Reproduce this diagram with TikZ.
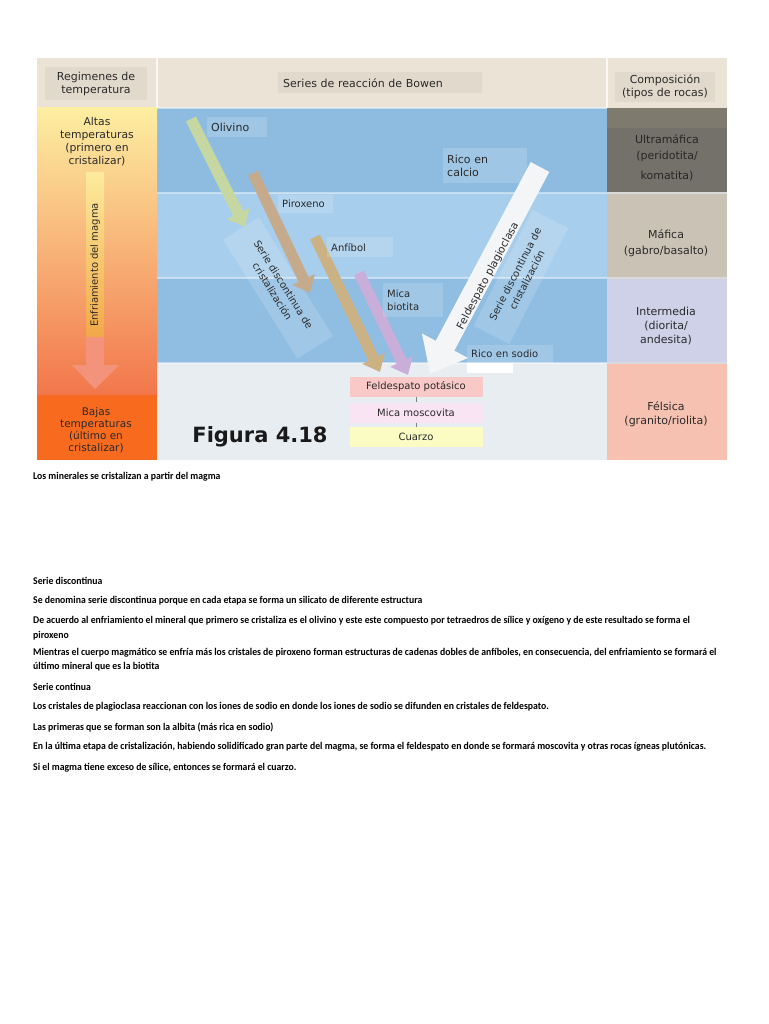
\documentclass[tikz,border=0pt]{standalone}
\usepackage{fontspec}
\setmainfont{DejaVu Sans}
\newfontfamily\bodyfont[FakeStretch=0.945]{Carlito}
\usetikzlibrary{arrows.meta,positioning}

\definecolor{headBeige}{HTML}{EAE3D6}
\definecolor{headShade}{HTML}{E1D9CB}
\definecolor{rowOne}{HTML}{8EBCE1}
\definecolor{rowTwo}{HTML}{A7CEEC}
\definecolor{rowThree}{HTML}{90BDE2}
\definecolor{rowFour}{HTML}{E8EDF1}
\definecolor{ultraGray}{HTML}{7E7A6E}
\definecolor{ultraDark}{HTML}{74716A}
\definecolor{maficGray}{HTML}{C9C2B5}
\definecolor{interLav}{HTML}{CED1E8}
\definecolor{felsPink}{HTML}{F6C1B1}
\definecolor{tempTop}{HTML}{FDEEA2}
\definecolor{tempMid}{HTML}{F9C182}
\definecolor{tempBot}{HTML}{F2764C}
\definecolor{bajasOrange}{HTML}{F86B1E}
\definecolor{arrowYellow}{HTML}{FCEB9C}
\definecolor{arrowDeep}{HTML}{F2A848}
\definecolor{arrowSalmon}{HTML}{F3937C}
\definecolor{olivGreen}{HTML}{C6D7A2}
\definecolor{piroTan}{HTML}{C5AA8C}
\definecolor{anfiTan}{HTML}{CBB285}
\definecolor{micaLila}{HTML}{C9AEDA}
\definecolor{plagWhite}{HTML}{F3F5F7}
\definecolor{feldPink}{HTML}{F8C9C7}
\definecolor{moscPink}{HTML}{F9E4F4}
\definecolor{cuarYellow}{HTML}{FBFBC4}
\definecolor{textDark}{HTML}{2A2A2A}

\begin{document}
\begin{tikzpicture}[x=1pt,y=-1pt,
	labelBox/.style={fill=white, fill opacity=0.16, text opacity=1, text=textDark, align=left, anchor=north west, inner sep=4pt, font=\fontsize{10}{12.5}\selectfont},
	headBox/.style={fill=headShade, text=textDark, align=center, inner sep=2pt, font=\fontsize{11}{13}\selectfont},
	cellText/.style={text=textDark, align=center, font=\fontsize{11}{15.5}\selectfont},
	rotBox/.style={fill=white, fill opacity=0.16, text opacity=1, text=textDark, align=center, inner sep=5pt, font=\fontsize{10}{13}\selectfont},
	mineralBox/.style={minimum width=133pt, minimum height=20pt, inner sep=0pt, text=textDark, font=\fontsize{10}{12}\selectfont},
	seriesArrow/.style={line width=11pt, -{Triangle[width=24pt,length=15pt]}},
	bodyLine/.style={anchor=west, inner sep=0pt, text=black, font=\bodyfont\bfseries\fontsize{10.3}{12}\selectfont}]
		% cadre de la page
		\useasboundingbox (0,0) rectangle (768,1024);
		\fill[white] (0,0) rectangle (768,1024);

		% limites des colonnes et des bandes
		\pgfmathsetmacro{\colLeft}{37}
		\pgfmathsetmacro{\colA}{157}
		\pgfmathsetmacro{\colB}{607}
		\pgfmathsetmacro{\colRight}{727}
		\pgfmathsetmacro{\rowTop}{58}
		\pgfmathsetmacro{\rowA}{108}
		\pgfmathsetmacro{\rowB}{193}
		\pgfmathsetmacro{\rowC}{278}
		\pgfmathsetmacro{\rowD}{363}
		\pgfmathsetmacro{\rowBottom}{460}

		% en-tete
		\fill[headBeige] (\colLeft,\rowTop) rectangle (\colRight,\rowA);
		\draw[white!75!headBeige, line width=1.5pt] (\colA,\rowTop) -- (\colA,\rowA) (\colB,\rowTop) -- (\colB,\rowA);
		\node[headBox, minimum width=102pt, minimum height=33pt] (regHead) at (96,84) {Regimenes de\\temperatura};
		\node[headBox, anchor=west, minimum width=204pt, minimum height=21pt, align=left, text width=194pt] (bowenHead) at (278,83) {Series de reacción de Bowen};
		\node[headBox, minimum width=100pt, minimum height=30pt] (compHead) at (665,87) {Composición\\(tipos de rocas)};

		% bandes bleues
		\fill[rowOne] (\colA,\rowA) rectangle (\colB,\rowB);
		\fill[rowTwo] (\colA,\rowB) rectangle (\colB,\rowC);
		\fill[rowThree] (\colA,\rowC) rectangle (\colB,\rowD);
		\fill[rowFour] (\colA,\rowD) rectangle (\colB,\rowBottom);
		\foreach \r in {\rowA,\rowB,\rowC,\rowD}{%
			\draw[white, opacity=0.45, line width=1.3pt] (\colA,\r) -- (\colB,\r);
		}

		% colonne de droite : composition
		\fill[ultraGray] (\colB,\rowA) rectangle (\colRight,\rowB);
		\fill[ultraDark] (\colB,128) rectangle (\colRight,\rowB);
		\fill[maficGray] (\colB,\rowB) rectangle (\colRight,\rowC);
		\fill[interLav] (\colB,\rowC) rectangle (\colRight,\rowD);
		\fill[felsPink] (\colB,\rowD) rectangle (\colRight,\rowBottom);
		\draw[white!70!gray, line width=1.2pt] (\colB,\rowB) -- (\colRight,\rowB) (\colB,\rowC) -- (\colRight,\rowC) (\colB,\rowD) -- (\colRight,\rowD);
		\node[cellText, text=black!85] (ultraTxt) at (667,158) {Ultramáfica\\(peridotita/\\[5pt]komatita)};
		\node[cellText] (maficTxt) at (666,243) {Máfica\\(gabro/basalto)};
		\node[cellText, font=\fontsize{11}{14}\selectfont] (interTxt) at (666,326) {Intermedia\\(diorita/\\andesita)};
		\node[cellText, font=\fontsize{11}{14.5}\selectfont] (felsTxt) at (666,414) {Félsica\\(granito/riolita)};

		% colonne de gauche : degrade de temperature
		\shade[top color=tempTop, middle color=tempMid, bottom color=tempBot] (\colLeft,\rowA) rectangle (\colA,395);
		\fill[bajasOrange] (\colLeft,395) rectangle (\colA,\rowBottom);
		\node[cellText, font=\fontsize{10.8}{13}\selectfont] (altasTxt) at (97,142) {Altas\\temperaturas\\(primero en\\cristalizar)};
		\node[cellText, font=\fontsize{10.5}{12}\selectfont] (bajasTxt) at (96,430) {Bajas\\temperaturas\\(último en\\cristalizar)};

		% fleche de refroidissement
		\shade[top color=arrowYellow, bottom color=arrowDeep] (86,173) rectangle (104,337);
		\fill[arrowSalmon] (86,337) -- (104,337) -- (104,365) -- (119,365) -- (95,389) -- (72,365) -- (86,365) -- cycle;
		\node[rotate=90, text=textDark, font=\fontsize{10}{12}\selectfont] (coolTxt) at (95,265) {Enfriamiento del magma};

		% cadres tournes des series
		\node[rotBox, rotate=-58, minimum width=140pt, minimum height=42pt] (leftSerie) at (278,288) {Serie discontinua de\\cristalización};
		\node[rotBox, rotate=63, minimum width=130pt, minimum height=40pt] (rightSerie) at (521,277) {Serie discontinua de\\cristalización};

		% fleches des mineraux
		\coordinate (olivStart) at (191,119);
		\coordinate (olivEnd) at (245,227);
		\coordinate (piroStart) at (253,173);
		\coordinate (piroEnd) at (310,293);
		\coordinate (anfiStart) at (315,237);
		\coordinate (anfiEnd) at (380,372);
		\coordinate (micaStart) at (359,273);
		\coordinate (micaEnd) at (408,375);
		\coordinate (plagStart) at (540,167);
		\coordinate (plagEnd) at (430,374);
		\draw[seriesArrow, draw=olivGreen] (olivStart) -- (olivEnd);
		\draw[seriesArrow, draw=piroTan] (piroStart) -- (piroEnd);
		\draw[seriesArrow, draw=anfiTan] (anfiStart) -- (anfiEnd);
		\draw[seriesArrow, draw=micaLila] (micaStart) -- (micaEnd);
		\draw[seriesArrow, draw=plagWhite, line width=21pt, -{Triangle[width=50pt,length=32pt]}] (plagStart) -- (plagEnd);
		\node[rotate=62, text=textDark, font=\fontsize{10.5}{12}\selectfont] (plagTxt) at (488,276) {Feldespato plagioclasa};

		% etiquettes
		\node[labelBox, text width=52pt, minimum height=20pt, font=\fontsize{11}{13}\selectfont] (olivLbl) at (207,117) {Olivino};
		\node[labelBox, text width=47pt, minimum height=18pt] (piroLbl) at (278,195) {Piroxeno};
		\node[labelBox, text width=58pt, minimum height=20pt] (anfiLbl) at (327,237) {Anfíbol};
		\node[labelBox, text width=52pt, minimum height=34pt] (micaLbl) at (383,283) {Mica\\biotita};
		\node[labelBox, text width=76pt, minimum height=35pt, font=\fontsize{11}{13.5}\selectfont] (calcLbl) at (443,148) {Rico en\\calcio};
		\node[labelBox, text width=78pt, minimum height=18pt] (sodioLbl) at (467,345) {Rico en sodio};
		\fill[white] (467,363) rectangle (513,373);

		% mineraux de la serie finale
		\node[mineralBox, fill=feldPink] (feld) at (416,387) {Feldespato potásico};
		\node[mineralBox, fill=moscPink] (mosc) at (416,412.5) {Mica moscovita};
		\node[mineralBox, fill=cuarYellow] (cuar) at (416,437) {Cuarzo};
		\draw[gray, line width=0.6pt] (feld) -- (mosc);
		\draw[gray, line width=0.6pt] (mosc) -- (cuar);
		\node[font=\fontsize{21}{24}\selectfont\bfseries, text=black!90] (figTxt) at (260,437) {Figura 4.18};

		% texte sous la figure
		\foreach \yPos/\lineText [count=\n] in {%
			477/{Los minerales se cristalizan a partir del magma},
			581/{Serie discontinua},
			601/{Se denomina serie discontinua porque en cada etapa se forma un silicato de diferente estructura},
			621/{De acuerdo al enfriamiento el mineral que primero se cristaliza es el olivino y este este compuesto por tetraedros de sílice y oxígeno y de este resultado se forma el},
			636/{piroxeno},
			653/{Mientras el cuerpo magmático se enfría más los cristales de piroxeno forman estructuras de cadenas dobles de anfíboles, en consecuencia, del enfriamiento se formará el},
			667/{último mineral que es la biotita},
			687/{Serie continua},
			707/{Los cristales de plagioclasa reaccionan con los iones de sodio en donde los iones de sodio se difunden en cristales de feldespato.},
			727/{Las primeras que se forman son la albita (más rica en sodio)},
			747/{En la última etapa de cristalización, habiendo solidificado gran parte del magma, se forma el feldespato en donde se formará moscovita y otras rocas ígneas plutónicas.},
			768/{Si el magma tiene exceso de sílice, entonces se formará el cuarzo.}}{%
			\node[bodyLine] (bodyTxt\n) at (33,\yPos) {\lineText};
		}
	\end{tikzpicture}
\end{document}
